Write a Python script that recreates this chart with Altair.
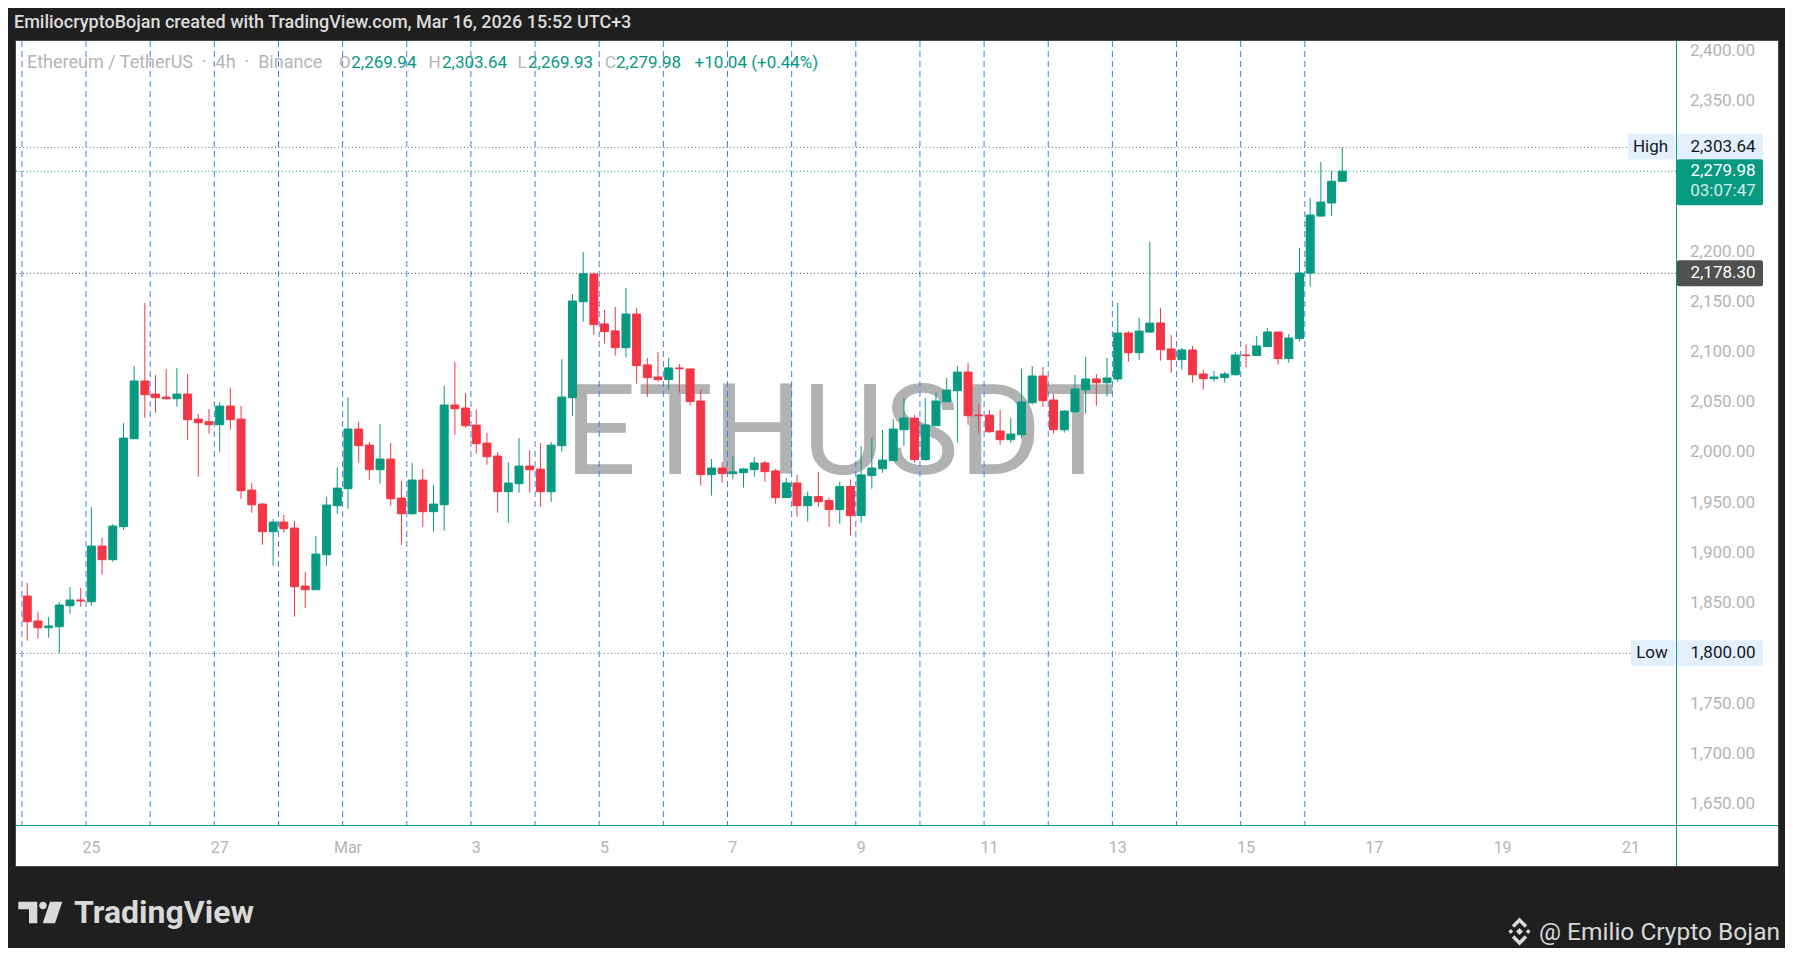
import altair as alt
import pandas as pd

# ---------------- data ----------------
opens = [1857.0, 1832.2, 1825.5, 1826.5, 1847.4, 1853.1, 1851.4, 1906.8, 1893.2, 1926.1,
         2013.6, 2071.1, 2058.1, 2055.1, 2053.5, 2058.1, 2033.2, 2030.6, 2027.6, 2046.2,
         2033.2, 1962.5, 1948.6, 1921.1, 1930.7, 1924.7, 1867.0, 1863.3, 1898.2, 1947.0,
         1963.9, 2023.3, 2007.3, 1982.8, 1993.4, 1954.6, 1939.0, 1972.5, 1941.0, 1947.9,
         2047.2, 2044.2, 2027.2, 2009.3, 1996.4, 1960.9, 1968.9, 1986.4, 1983.4, 1960.9,
         2006.7, 2054.5, 2150.0, 2177.6, 2127.9, 2121.0, 2104.3, 2137.8, 2087.1, 2075.1,
         2072.5, 2084.1, 2083.1, 2051.2, 1977.9, 1984.5, 1978.9, 1979.9, 1982.9, 1989.5,
         1981.6, 1955.0, 1969.6, 1947.0, 1956.0, 1952.0, 1943.1, 1966.0, 1937.1, 1976.9,
         1983.8, 1991.8, 2022.6, 2034.2, 1992.8, 2026.6, 2050.5, 2061.5, 2080.0, 2037.2,
         2037.2, 2021.3, 2012.7, 2017.6, 2049.5, 2076.1, 2052.2, 2022.6, 2040.5, 2062.4,
         2073.1, 2069.4, 2073.1, 2118.9, 2099.3, 2119.8, 2128.9, 2103.0, 2092.4, 2102.0,
         2078.1, 2073.5, 2074.5, 2077.4, 2097.0, 2096.4, 2105.3, 2119.9, 2093.4, 2113.3,
         2178.6, 2235.3, 2248.3, 2269.94]
highs = [1870.3, 1841.4, 1836.1, 1851.1, 1866.0, 1865.0, 1945.6, 1914.8, 1928.7, 2029.2,
         2086.0, 2148.7, 2077.0, 2083.0, 2084.0, 2078.0, 2038.2, 2043.2, 2050.1, 2064.1,
         2046.2, 1969.5, 1949.6, 1933.7, 1937.7, 1931.7, 1880.9, 1916.8, 1955.6, 1985.1,
         2055.1, 2030.2, 2010.3, 2028.2, 2009.3, 1971.5, 1989.4, 1983.4, 1967.5, 2066.1,
         2090.0, 2059.1, 2042.2, 2019.3, 2000.4, 1990.4, 2014.3, 2002.4, 2009.4, 2010.3,
         2092.9, 2157.6, 2199.5, 2179.3, 2141.8, 2144.8, 2163.7, 2143.8, 2094.0, 2100.0,
         2094.0, 2088.1, 2083.1, 2062.2, 1993.5, 1990.5, 1996.5, 1984.5, 1995.5, 1991.5,
         1983.5, 1974.6, 1977.6, 1961.0, 1980.6, 1955.0, 1970.9, 1972.9, 2006.4, 2014.4,
         2022.3, 2033.3, 2054.2, 2037.2, 2054.2, 2060.1, 2074.1, 2086.0, 2089.0, 2048.2,
         2042.2, 2042.2, 2034.2, 2083.0, 2086.0, 2085.0, 2058.1, 2042.2, 2077.1, 2095.0,
         2078.0, 2094.0, 2148.7, 2120.8, 2133.8, 2209.5, 2143.8, 2116.9, 2104.0, 2106.0,
         2082.1, 2081.1, 2080.1, 2100.0, 2108.0, 2115.9, 2123.9, 2119.9, 2117.9, 2203.5,
         2253.3, 2289.1, 2280.1, 2303.64]
lows = [1812.6, 1814.6, 1815.6, 1800.0, 1839.5, 1846.4, 1847.4, 1878.3, 1891.2, 1923.1,
        2013.6, 2034.5, 2039.5, 2052.5, 2045.5, 2012.6, 1975.8, 2018.6, 2000.7, 2022.6,
        1953.9, 1940.0, 1908.1, 1887.2, 1920.1, 1836.5, 1845.1, 1863.3, 1887.2, 1939.0,
        1944.0, 1989.8, 1972.8, 1968.9, 1947.0, 1908.1, 1938.0, 1926.1, 1921.1, 1922.1,
        2017.6, 2024.6, 1998.7, 1987.8, 1940.0, 1930.0, 1959.9, 1959.9, 1946.0, 1950.9,
        2000.7, 2036.5, 2130.1, 2117.3, 2108.3, 2096.4, 2094.4, 2068.5, 2055.5, 2070.5,
        2062.5, 2059.5, 2046.6, 1967.0, 1957.0, 1969.9, 1972.9, 1965.0, 1975.9, 1970.9,
        1949.0, 1955.0, 1936.1, 1931.1, 1946.0, 1926.1, 1929.1, 1917.2, 1930.1, 1964.0,
        1979.8, 1991.8, 2006.7, 1989.8, 1991.8, 2026.6, 2050.5, 2009.7, 2027.6, 2018.7,
        2019.6, 2007.7, 2009.7, 2013.7, 2047.5, 2045.5, 2018.7, 2019.6, 2039.5, 2038.5,
        2046.5, 2055.5, 2070.1, 2090.3, 2092.3, 2119.8, 2091.4, 2079.4, 2082.4, 2069.5,
        2062.5, 2070.5, 2069.5, 2076.4, 2084.4, 2096.4, 2105.3, 2087.4, 2089.4, 2110.3,
        2165.0, 2235.3, 2235.3, 2269.93]
closes = [1831.5, 1825.5, 1827.2, 1848.1, 1853.1, 1852.1, 1906.8, 1893.2, 1926.7, 2014.3,
          2071.1, 2057.4, 2054.5, 2053.5, 2058.1, 2032.6, 2029.6, 2027.6, 2046.2, 2032.6,
          1961.9, 1947.9, 1921.1, 1930.7, 1924.1, 1866.3, 1863.3, 1898.8, 1947.6, 1964.5,
          2023.3, 2006.7, 1982.8, 1993.4, 1953.9, 1939.0, 1972.5, 1941.0, 1948.6, 2047.2,
          2043.5, 2026.6, 2008.7, 1995.7, 1960.9, 1969.5, 1986.4, 1982.8, 1960.9, 2007.3,
          2055.1, 2150.7, 2177.9, 2127.2, 2120.3, 2104.3, 2137.8, 2086.4, 2074.5, 2072.5,
          2084.1, 2083.4, 2050.6, 1977.9, 1984.5, 1978.9, 1980.6, 1983.5, 1989.5, 1980.9,
          1955.0, 1969.6, 1947.0, 1956.0, 1951.0, 1943.1, 1966.0, 1937.1, 1977.6, 1984.5,
          1992.4, 2023.3, 2034.2, 1992.8, 2027.3, 2051.2, 2062.1, 2080.0, 2036.6, 2036.6,
          2020.6, 2012.7, 2018.3, 2050.2, 2076.1, 2051.5, 2022.6, 2041.2, 2063.1, 2073.1,
          2069.4, 2074.1, 2118.9, 2099.3, 2120.8, 2128.8, 2102.3, 2092.4, 2102.0, 2077.4,
          2073.5, 2075.1, 2078.1, 2097.0, 2096.4, 2106.0, 2119.9, 2093.4, 2113.9, 2178.6,
          2236.3, 2249.3, 2269.94, 2279.98]

first_bar = "2026-02-24 02:00"          # 4h bars
day_marks = pd.date_range("2026-02-24", "2026-03-16", freq="D")   # dashed day separators
date_label_days = ["2026-02-25", "2026-02-27", "2026-03-01", "2026-03-03", "2026-03-05",
                   "2026-03-07", "2026-03-09", "2026-03-11", "2026-03-13", "2026-03-15",
                   "2026-03-17", "2026-03-19", "2026-03-21"]
date_labels = ["25", "27", "Mar", "3", "5", "7", "9", "11", "13", "15", "17", "19", "21"]
# price-scale labels that are not hidden behind the price badges
price_ticks = [1650, 1700, 1750, 1850, 1900, 1950, 2000, 2050, 2100,
               2150, 2200, 2350, 2400]
hline_level = [2178.30]
countdown = "03:07:47"

# ---------------- tables ----------------
def iso(ts):
    return pd.Timestamp(ts).strftime("%Y-%m-%dT%H:%M:%SZ")

def ms(ts):
    return int(pd.Timestamp(ts, tz="UTC").value // 10**6)

bar_times = pd.date_range(first_bar, periods=len(opens), freq="4h")
candles = pd.DataFrame({"t": [iso(t) for t in bar_times], "open": opens,
                        "high": highs, "low": lows, "close": closes})
days = pd.DataFrame({"t": [iso(t) for t in day_marks]})
dlabels = pd.DataFrame({"t": [iso(pd.Timestamp(d) + pd.Timedelta(hours=2)) for d in date_label_days],
                        "lab": date_labels})
plabels = pd.DataFrame({"p": price_ticks})
one = pd.DataFrame({"k": [0]})

hi = max(highs)
lo = min(lows)
last_o, last_h, last_l, last_c = opens[-1], highs[-1], lows[-1], closes[-1]
prev_c = closes[-2]
chg = last_c - prev_c
pct = chg / prev_c * 100

# ---------------- styling ----------------
W, H = 1660, 784
GREEN = "#089981"
RED = "#F23645"
BLUE = "#3a80e8"
GRAY_TXT = "#b4b4b4"
FONT = "Roboto"
NB = "\u00a0"

xscale = alt.Scale(type="utc", domain=[ms("2026-02-23 23:40"), ms("2026-03-21 17:00")], nice=False)
yscale = alt.Scale(domain=[1629.1, 2409.6], nice=False, zero=False)

def X(field="t"):
    return alt.X(f"{field}:T", scale=xscale, axis=None)

def Y(field):
    return alt.Y(f"{field}:Q", scale=yscale, axis=None)

def txt(text, x, y, size=17, color=GRAY_TXT, weight="normal", align="left", font=FONT):
    return alt.Chart(one).mark_text(text=text, align=align, baseline="middle", font=font,
                                    fontSize=size, fontWeight=weight, color=color).encode(
        x=alt.value(x), y=alt.value(y))

def box(x1, x2, y1, y2, color):
    return alt.Chart(one).mark_rect(color=color).encode(
        x=alt.value(x1), x2=alt.value(x2), y=alt.value(y1), y2=alt.value(y2))

up = "datum.close >= datum.open"
ccol = alt.condition(up, alt.value(GREEN), alt.value(RED))

layers = []

# white axis panels and frame
layers.append(box(W, 1762, 0, 825, "white"))
layers.append(box(0, W, H, 825, "white"))
layers.append(alt.Chart(one).mark_rect(fillOpacity=0, stroke="#4a4a4a", strokeWidth=1).encode(
    x=alt.value(-0.5), x2=alt.value(1762.5), y=alt.value(-0.5), y2=alt.value(825.5)))

# watermark
layers.append(alt.Chart(one).mark_text(text="ETHUSDT", align="center", baseline="alphabetic",
                                       font=FONT, fontSize=126, color="#b2b2b2").encode(
    x=alt.value(824), y=alt.value(433)))

# dashed day separators
layers.append(alt.Chart(days).mark_rule(color=BLUE, strokeWidth=1, strokeDash=[6, 4]).encode(x=X()))

# dotted horizontal levels
def hline(level, color, x2):
    return alt.Chart(pd.DataFrame({"p": [level]})).mark_rule(
        color=color, strokeWidth=1, strokeDash=[1, 2.5]).encode(
        y=Y("p"), x=alt.value(0), x2=alt.value(x2))

layers.append(hline(hi, "#6a6d78", 1612))
layers.append(hline(lo, "#6a6d78", 1615))
layers.append(hline(hline_level[0], "#4a4a4a", W))
layers.append(hline(last_c, GREEN, W))

# candles
base = alt.Chart(candles)
layers.append(base.mark_rule(strokeWidth=1).encode(x=X(), y=Y("low"), y2="high:Q", color=ccol))
layers.append(base.mark_bar(size=8, strokeWidth=1).encode(
    x=X(), y=Y("open"), y2="close:Q", color=ccol, stroke=ccol))

# axis lines (teal)
layers.append(alt.Chart(one).mark_rule(color=GREEN, strokeWidth=1).encode(
    x=alt.value(0), x2=alt.value(1762), y=alt.value(H + 0.5)))
layers.append(alt.Chart(one).mark_rule(color=GREEN, strokeWidth=1).encode(
    x=alt.value(W + 0.5), y=alt.value(0), y2=alt.value(825)))

# tick labels
layers.append(alt.Chart(plabels).mark_text(align="left", baseline="middle", font=FONT,
                                           fontSize=17, color=GRAY_TXT).encode(
    y=Y("p"), x=alt.value(1674), text=alt.Text("p:Q", format=",.2f")))
layers.append(alt.Chart(dlabels).mark_text(align="center", baseline="middle", font=FONT,
                                           fontSize=16, color=GRAY_TXT).encode(
    x=X(), y=alt.value(807), text="lab:N"))

# price badges
def badge(level, x1, x2, top, bot, color):
    return alt.Chart(pd.DataFrame({"p": [level]})).mark_rect(
        color=color, yOffset=top, y2Offset=bot, cornerRadius=2).encode(
        y=Y("p"), y2="p:Q", x=alt.value(x1), x2=alt.value(x2))

def badge_text(level, text, x, color, dy=0, align="center", weight="normal"):
    return alt.Chart(pd.DataFrame({"p": [level]})).mark_text(
        text=text, align=align, baseline="middle", font=FONT, fontSize=17,
        color=color, dy=dy, fontWeight=weight).encode(y=Y("p"), x=alt.value(x))

layers.append(badge(hi, 1612, 1659, -14, 12, "#e3effd"))
layers.append(badge(hi, 1661, 1747, -14, 12, "#e3effd"))
layers.append(badge(lo, 1615, 1659, -13, 13, "#e3effd"))
layers.append(badge(lo, 1661, 1747, -13, 13, "#e3effd"))
layers.append(badge(hline_level[0], 1661, 1747, -13, 13, "#505050"))
layers.append(badge(last_c, 1661, 1747, -12, 34, GREEN))

layers.append(badge_text(hi, "High", 1634.5, "#131722"))
layers.append(badge_text(hi, f"{hi:,.2f}", 1707, "#131722"))
layers.append(badge_text(lo, "Low", 1636, "#131722"))
layers.append(badge_text(lo, f"{lo:,.2f}", 1707, "#131722"))
layers.append(badge_text(hline_level[0], f"{hline_level[0]:,.2f}", 1707, "white"))
layers.append(badge_text(last_c, f"{last_c:,.2f}", 1707, "white"))
layers.append(badge_text(last_c, countdown, 1707, "#d3ebe6", dy=20))

# legend line
ly = 22.3
sep = f"{NB}{NB}·{NB}{NB}"
layers.append(txt(f"Ethereum / TetherUS{sep}4h{sep}Binance", 11, ly, size=18))
layers.append(txt("O", 323, ly))
layers.append(txt(f"{last_o:,.2f}", 335.3, ly, color=GREEN))
layers.append(txt("H", 412.5, ly))
layers.append(txt(f"{last_h:,.2f}", 426, ly, color=GREEN))
layers.append(txt("L", 501.5, ly))
layers.append(txt(f"{last_l:,.2f}", 512, ly, color=GREEN))
layers.append(txt("C", 589, ly))
layers.append(txt(f"{last_c:,.2f}", 600, ly, color=GREEN))
layers.append(txt(f"{chg:+.2f} ({pct:+.2f}%)", 678.6, ly, color=GREEN))

# header
layers.append(txt("EmiliocryptoBojan created with TradingView.com, Mar 16, 2026 15:52 UTC+3",
                  -2, -17.7, size=18, color="#dcdcdc", weight=500))

# TradingView logo
tv_icon = ("M-0.995,-0.491 L-0.132,-0.491 L-0.132,0.491 L-0.509,0.491 L-0.509,-0.145 "
           "L-0.995,-0.145 Z M0.300,-0.318 A0.173,0.173 0 1 1 -0.046,-0.318 "
           "A0.173,0.173 0 1 1 0.300,-0.318 Z M0.445,-0.491 L1.005,-0.491 L0.673,0.491 "
           "L0.114,0.491 Z")
layers.append(alt.Chart(one).mark_point(shape=tv_icon, filled=True, size=1936, opacity=1,
                                        color="#d9d9d9").encode(
    x=alt.value(24.2), y=alt.value(871.5)))
layers.append(txt("TradingView", 58, 871.5, size=32, color="#d9d9d9", weight="bold"))

# attribution
bn_icon = ("M0,-0.25 L0.25,0 L0,0.25 L-0.25,0 Z M-0.79,0 L-0.62,-0.17 L-0.45,0 L-0.62,0.17 Z "
           "M0.79,0 L0.62,-0.17 L0.45,0 L0.62,0.17 Z "
           "M0,-1 L0.55,-0.45 L0.37,-0.27 L0,-0.64 L-0.37,-0.27 L-0.55,-0.45 Z "
           "M0,1 L0.55,0.45 L0.37,0.27 L0,0.64 L-0.37,0.27 L-0.55,0.45 Z")
layers.append(alt.Chart(one).mark_point(shape=bn_icon, filled=True, size=784, opacity=1,
                                        color="#d9d9d9").encode(
    x=alt.value(1503.5), y=alt.value(890.5)))
layers.append(txt("@ Emilio Crypto Bojan", 1523, 891.5, size=24.5, color="#d9d9d9"))

chart = alt.layer(*layers).properties(
    width=W, height=H,
    padding={"left": 8, "top": 33, "right": 109, "bottom": 123},
    autosize=alt.AutoSizeParams(type="none"),
    background="#1f1f1f",
).configure_view(fill="white", stroke=None)

chart.save("out.html", embed_options={"renderer": "svg", "actions": False})
